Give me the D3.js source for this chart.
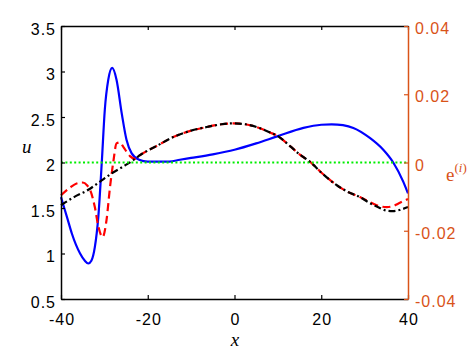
<!DOCTYPE html>
<html><head><meta charset="utf-8">
<script src="https://cdn.jsdelivr.net/npm/d3@7"></script>
<style>
body{margin:0;background:#fff;}
svg{display:block;}
</style></head>
<body>
<svg id="c" width="474" height="355"></svg>
<script>
// ---- data ----
const xTicks = [-40, -20, 0, 20, 40];
const uTicks = [0.5, 1, 1.5, 2, 2.5, 3, 3.5];
const eTicks = [-0.04, -0.02, 0, 0.02, 0.04];

const blueX = [-40, -38.5, -37.5, -35.6, -34.5, -33.7, -33, -32.2, -31.4, -30.6, -29.9, -29.1, -28.2, -27.2, -26.0, -24.9, -23.7, -22, -20, -15, -12.6, -10, -5, 0, 5, 10, 15.9, 20, 22.4, 25, 27.4, 31.2, 34.3, 36.6, 38.9, 40];
const blueU = [1.62, 1.38, 1.22, 1.0, 0.92, 0.89, 0.92, 1.07, 1.40, 2.0, 2.58, 2.91, 3.04, 2.91, 2.54, 2.25, 2.10, 2.03, 2.01, 2.01, 2.03, 2.05, 2.09, 2.14, 2.21, 2.29, 2.38, 2.415, 2.42, 2.41, 2.38, 2.27, 2.14, 2.0, 1.79, 1.66];

const redX = [-40, -38, -36.4, -35, -34, -33.3, -32.2, -31.4, -30.4, -29.5, -28.7, -27.9, -27.2, -26.5, -25.6, -24.9, -24.1, -22.9, -21.8, -18, -14.1, -10, -6.4, -3, -0.3, 2.5, 5.1, 8.2, 10, 12.8, 15, 17.6, 20, 23.6, 26, 28.9, 31, 32.8, 35.1, 36.5, 37.8, 40];
const redU = [1.64, 1.72, 1.77, 1.78, 1.75, 1.70, 1.51, 1.30, 1.18, 1.37, 1.73, 2.02, 2.21, 2.22, 2.17, 2.12, 2.07, 2.04, 2.08, 2.18, 2.28, 2.35, 2.39, 2.42, 2.43, 2.42, 2.39, 2.33, 2.29, 2.18, 2.09, 2.0, 1.89, 1.75, 1.68, 1.62, 1.57, 1.53, 1.51, 1.52, 1.55, 1.60];

const blackX = [-40, -37, -33.7, -31, -28.3, -25.5, -22.9, -21.8, -18, -14.1, -10, -6.4, -3, -0.3, 2.5, 5.1, 8.2, 10, 12.8, 15, 17.6, 20, 23.6, 26, 28.9, 31, 33.5, 35.1, 36.5, 38.2, 40];
const blackU = [1.53, 1.62, 1.70, 1.79, 1.88, 1.96, 2.04, 2.08, 2.18, 2.28, 2.35, 2.39, 2.42, 2.43, 2.42, 2.39, 2.33, 2.29, 2.18, 2.09, 2.0, 1.89, 1.75, 1.68, 1.62, 1.56, 1.50, 1.47, 1.465, 1.48, 1.51];

const greenX = [-40, 40];
const greenE = [0, 0];

// ---- layout ----
const L = 61, R = 408, T = 26, B = 299;
const orange = "#D95319";
const svg = d3.select("#c");
const x = d3.scaleLinear().domain([-40, 40]).range([L, R]);
const yu = d3.scaleLinear().domain([0.5, 3.5]).range([B, T]);
const ye = d3.scaleLinear().domain([-0.04, 0.04]).range([B, T]);

const font = "'Liberation Sans', Arial, Helvetica, sans-serif";
const serif = "'Liberation Serif', 'Times New Roman', serif";
const fmt = d => String(d).replace("\u2212", "-");

const lineU = d3.line().x(d => x(d[0])).y(d => yu(d[1])).curve(d3.curveMonotoneX);
const lineE = d3.line().x(d => x(d[0])).y(d => ye(d[1]));
const zip = (a, b) => a.map((v, i) => [v, b[i]]);

const plot = svg.append("g");
plot.append("path").attr("d", lineU(zip(blueX, blueU)))
  .attr("fill", "none").attr("stroke", "#0000ff").attr("stroke-width", 2.2);
plot.append("path").attr("d", lineU(zip(redX, redU)))
  .attr("fill", "none").attr("stroke", "#ff0000").attr("stroke-width", 2.2)
  .attr("stroke-dasharray", "8,4.5");
plot.append("path").attr("d", lineU(zip(blackX, blackU)))
  .attr("fill", "none").attr("stroke", "#000").attr("stroke-width", 2.2)
  .attr("stroke-dasharray", "7,3,2,3");
plot.append("path").attr("d", lineE(zip(greenX, greenE)))
  .attr("fill", "none").attr("stroke", "#00ee00").attr("stroke-width", 2.2)
  .attr("stroke-dasharray", "2,2.4");

function style(g, color) {
  g.selectAll("path.domain").attr("stroke", color).attr("stroke-width", 1.5);
  g.selectAll(".tick line").attr("stroke", color).attr("stroke-width", 1.2);
  g.selectAll(".tick text").attr("fill", color)
    .style("font-family", font).style("font-size", "16px").style("letter-spacing", "1px");
}
const gb = svg.append("g").attr("transform", `translate(0,${B})`)
  .call(d3.axisBottom(x).tickValues(xTicks).tickSizeInner(-4).tickSizeOuter(0).tickPadding(14.5).tickFormat(fmt));
style(gb, "#000");
gb.selectAll(".tick text").attr("dx", "0.5px");
const gt = svg.append("g").attr("transform", `translate(0,${T})`)
  .call(d3.axisTop(x).tickValues(xTicks).tickSizeInner(-4).tickSizeOuter(0).tickFormat(""));
style(gt, "#000");
const gl = svg.append("g").attr("transform", `translate(${L},0)`)
  .call(d3.axisLeft(yu).tickValues(uTicks).tickSizeInner(-4).tickSizeOuter(0).tickPadding(5).tickFormat(fmt));
style(gl, "#000");
gl.selectAll(".tick text").attr("dy", "0.5em");
const gr = svg.append("g").attr("transform", `translate(${R},0)`)
  .call(d3.axisRight(ye).tickValues(eTicks).tickSizeInner(-4).tickSizeOuter(0).tickPadding(7).tickFormat(fmt));
style(gr, orange);
gr.selectAll(".tick text").attr("dy", "0.47em");

svg.append("text").attr("x", 26.7).attr("y", 153).attr("text-anchor", "middle")
  .style("font-family", serif).style("font-style", "italic")
  .style("font-size", "19px").text("u");
svg.append("text").attr("x", 235).attr("y", 346).attr("text-anchor", "middle")
  .style("font-family", serif).style("font-style", "italic")
  .style("font-size", "19px").text("x");
const el = svg.append("text").attr("x", 446).attr("y", 181).attr("fill", orange)
  .style("font-family", serif).style("font-size", "19px");
el.append("tspan").text("e");
el.append("tspan").attr("dy", -9).style("font-size", "13px").text("(");
el.append("tspan").style("font-size", "13px").style("font-style", "italic").text("i");
el.append("tspan").style("font-size", "13px").text(")");
</script>
</body></html>
